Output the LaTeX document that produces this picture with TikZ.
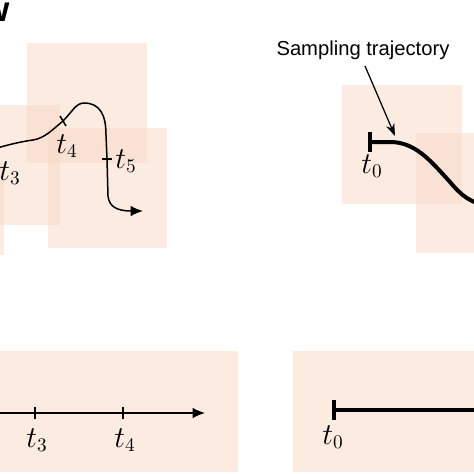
\documentclass[tikz,border=0pt]{standalone}
\usepackage{fontspec}
\setsansfont{Liberation Sans}
\usetikzlibrary{arrows.meta}
\usetikzlibrary{calc}
\definecolor{peach}{RGB}{247,218,200}

\begin{document}
\begin{tikzpicture}[x=0.02cm,y=-0.02cm,line width=0.3mm,
  patch/.style={fill=peach,opacity=0.55},
  tlabel/.style={font=\fontsize{16}{18}\selectfont,inner sep=0pt},
  traj/.style={line width=0.08cm},
  tickmark/.style={line width=0.3mm}]

\useasboundingbox (0,0) rectangle (474,474);
\clip (0,0) rectangle (474,474);

% cut title
\node[font=\sffamily\bfseries\fontsize{20}{22}\selectfont,anchor=east,inner sep=0pt] (title) at (11,12) {w};

% patches, top left
\fill[patch] (27,43) rectangle (147,163);
\fill[patch] (-60,105) rectangle (60,225);
\fill[patch] (48,128) rectangle (167,248);
\fill[patch] (-100,163) rectangle (4,255);

% patches, top right
\fill[patch] (342,85) rectangle (462,204);
\fill[patch] (416,133) rectangle (536,253);

% panels, bottom
\fill[patch] (-10,351) rectangle (238,472);
\fill[patch] (293,351) rectangle (490,472);

% free trajectory
\coordinate (p0) at (-6,149);
\coordinate (p1) at (33,140);
\coordinate (p4) at (63,121);
\coordinate (top) at (84,103);
\coordinate (p5) at (107,159);
\coordinate (bend) at (108,196);
\coordinate (pend) at (143,211);
\draw[-{Latex[length=7pt,width=6pt]}] (p0) .. controls (10,144) and (25,141) .. (p1)
  .. controls (45,138) and (52,130) .. (p4)
  .. controls (72,112) and (76,103) .. (top)
  .. controls (100,103) and (106,115) .. (106,135)
  -- (p5) -- (bend)
  .. controls (109,206) and (116,211) .. (pend);
\draw[tickmark] ($(p4)+(-3,-5)$) -- ($(p4)+(3,5)$);
\draw[tickmark] ($(p5)+(-5,0)$) -- ($(p5)+(5,0)$);

\node[tlabel] (t3a) at (10,173) {$t_3$};
\node[tlabel] (t4a) at (67,146) {$t_4$};
\node[tlabel] (t5a) at (126,161) {$t_5$};

% sampling trajectory
\coordinate (s0) at (368,142);
\coordinate (sarr) at (395,136);
\draw[traj,{Bar[width=11pt,line width=0.08cm]}-] (s0) -- (390,142)
  .. controls (415,142) and (430,160) .. (450,182)
  .. controls (462,196) and (470,203) .. (490,206);
\node[font=\sffamily\fontsize{11.5}{13}\selectfont,inner sep=1pt] (lblSampling) at (363,50) {Sampling trajectory};
\coordinate (sfrom) at ($(lblSampling.south)+(2,4)$);
\draw[-{Stealth[length=7pt,width=5pt]},line width=0.25mm] (sfrom) -- (sarr);
\node[tlabel] (t0a) at (372,166) {$t_0$};

% time axis, bottom left
\coordinate (a0) at (-5,413);
\coordinate (a1) at (205,413);
\draw[-{Latex[length=7pt,width=6pt]}] (a0) -- (a1);
\draw[tickmark] (35,407) -- (35,419);
\draw[tickmark] (123,407) -- (123,419);
\node[tlabel] (t3b) at (37,440) {$t_3$};
\node[tlabel] (t4b) at (125,440) {$t_4$};

% sampled axis, bottom right
\coordinate (b0) at (332,410);
\coordinate (b1) at (490,410);
\draw[traj,{Bar[width=11pt,line width=0.08cm]}-] (b0) -- (b1);
\node[tlabel] (t0b) at (333,437) {$t_0$};

\end{tikzpicture}
\end{document}
